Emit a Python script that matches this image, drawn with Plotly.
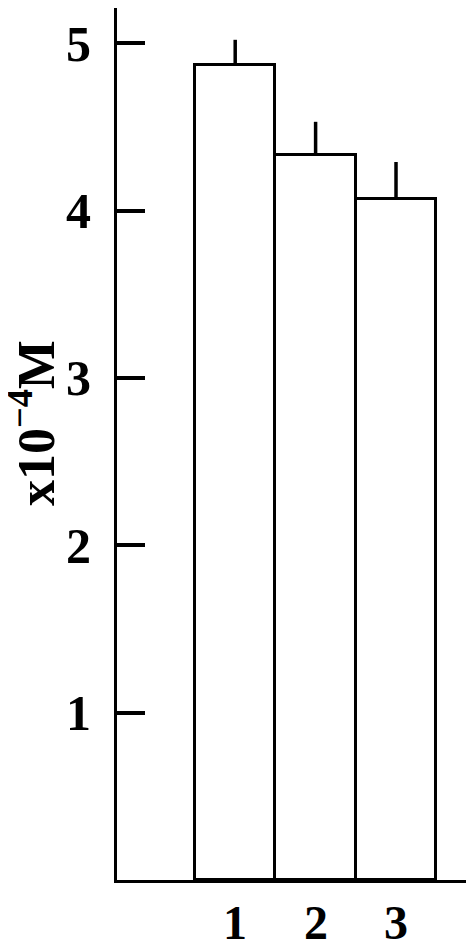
import plotly.graph_objects as go

# data (units of x10^-4 M)
groups = ["1", "2", "3"]
means = [4.87, 4.33, 4.07]
errors_up = [0.15, 0.20, 0.22]
y_ticks = [1, 2, 3, 4, 5]

serif = "Liberation Serif, Times New Roman, serif"

fig = go.Figure()
fig.add_trace(go.Bar(
    x=groups,
    y=means,
    width=1,
    marker=dict(color="white", line=dict(color="black", width=3)),
    error_y=dict(type="data", symmetric=False, array=errors_up,
                 arrayminus=[0] * len(means), width=0,
                 thickness=3.5, color="black"),
    showlegend=False,
))

# the page body adds an 8px offset, so the figure is a bit smaller
fig.update_layout(
    width=466, height=942,
    margin=dict(l=109, r=0, t=0, b=70),
    plot_bgcolor="white", paper_bgcolor="white",
    bargap=0,
)
fig.update_xaxes(
    type="category",
    range=[-1.47, 2.97],
    automargin=False,
    showline=True, linecolor="black", linewidth=3,
    showgrid=False, zeroline=False,
    ticks="", showticklabels=False,
)
fig.update_yaxes(
    range=[0, 5.21],
    tickvals=y_ticks,
    automargin=False,
    showline=True, linecolor="black", linewidth=3,
    showgrid=False, zeroline=False,
    ticks="inside", ticklen=28, tickwidth=3.5, tickcolor="black",
    ticklabelstandoff=13,
    tickfont=dict(family=serif, size=50, color="black", weight="bold"),
)

# group labels under the bars, placed a little closer to the axis than
# plotly's own tick labels would sit (x is the category index)
for i, g in enumerate(groups):
    fig.add_annotation(
        text=g, x=i, xref="x", y=0, yref="paper",
        xanchor="center", yanchor="top", yshift=-14, showarrow=False,
        font=dict(family=serif, size=48, color="black", weight="bold"),
    )

fig.add_annotation(
    text="x10<sup>\u22124</sup>M",
    xref="paper", yref="paper", x=-0.238, y=0.524,
    xanchor="center", yanchor="middle", textangle=-90, showarrow=False,
    font=dict(family=serif, size=52, color="black", weight="bold"),
)

fig.write_html("out.html")
